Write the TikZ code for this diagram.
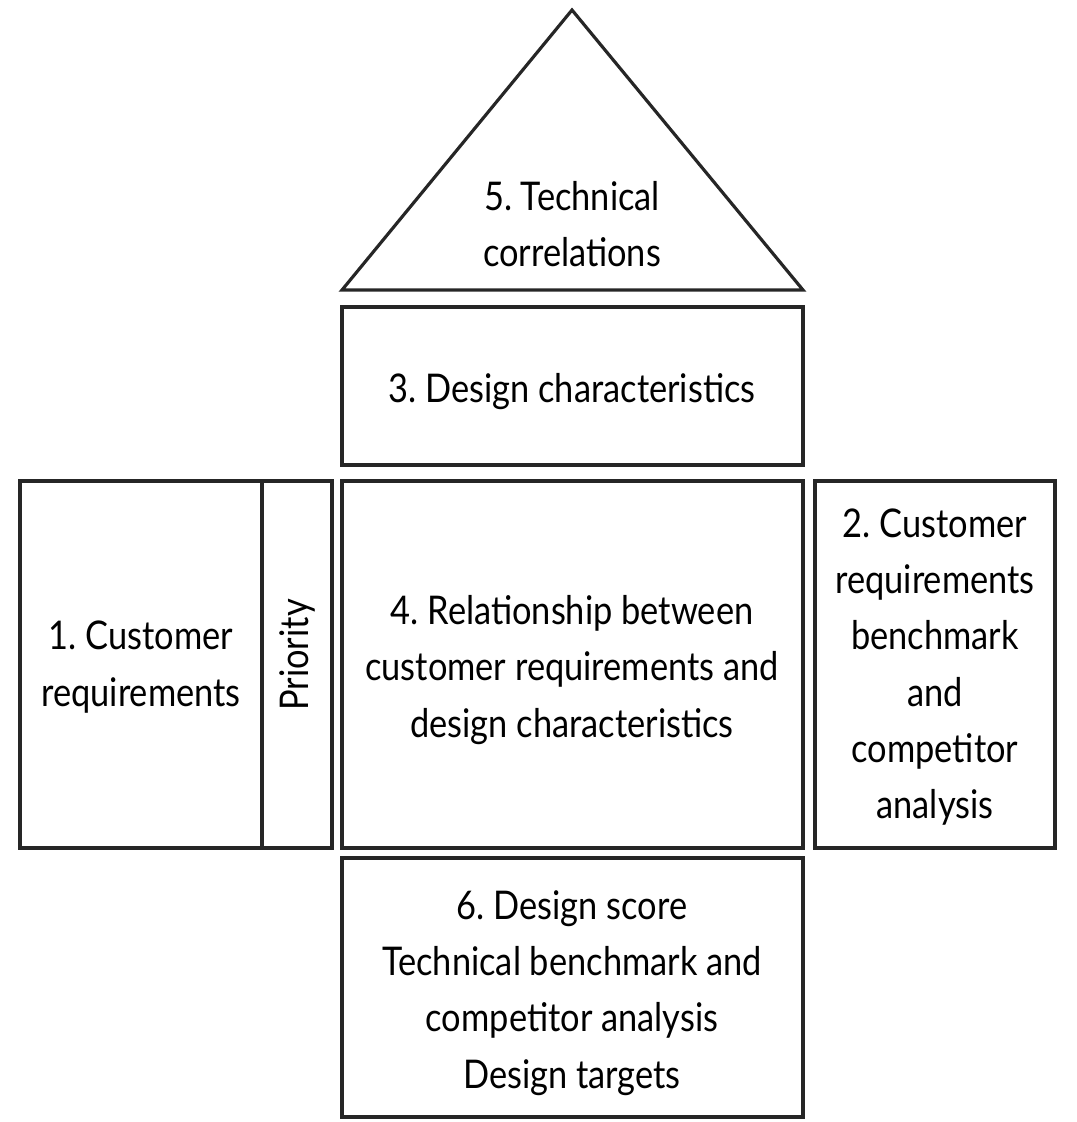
\documentclass[tikz,border=0pt]{standalone}
\usepackage{fontspec}
\setmainfont{Lato}[FakeStretch=0.87]
\frenchspacing
\usepackage{tikz}
\usetikzlibrary{positioning}
\tikzset{
  room/.style={draw=black!85,line width=1.8pt,rectangle,inner sep=0pt},
  label text/.style={align=center,font=\fontsize{22.5}{32}\selectfont},
}

\begin{document}
\begin{tikzpicture}[x=0.02cm,y=-0.02cm]
  \useasboundingbox (0,0) rectangle (1076,1122);
  % roof
  \coordinate (apex) at (572,10);
  \coordinate (roofL) at (342,290);
  \coordinate (roofR) at (803,290);
  \draw[black!85,line width=1.8pt,line join=miter] (roofL)--(apex)--(roofR)--cycle;
  \node[label text] (corr) at (572,224) {5. Technical\\correlations};
  % rooms
  \node[room,minimum width=9.22cm,minimum height=3.16cm] (design) at (572.5,386) {};
  \node[room,minimum width=9.22cm,minimum height=7.34cm] (relation) at (572.5,664.5) {};
  \node[room,minimum width=4.84cm,minimum height=7.34cm] (custreq) at (141,664.5) {};
  \node[room,minimum width=1.40cm,minimum height=7.34cm] (priority) at (297,664.5) {};
  \node[room,minimum width=4.80cm,minimum height=7.34cm] (bench) at (935,664.5) {};
  \node[room,minimum width=9.22cm,minimum height=5.18cm] (score) at (572.5,987.5) {};
  % texts
  \node[label text] (designtxt) at (572,392) {3. Design characteristics};
  \node[label text] (relationtxt) at (572,670)
    {4. Relationship between\\customer requirements and\\design characteristics};
  \node[label text] (custreqtxt) at (141,667) {1. Customer\\requirements};
  \node[label text,rotate=90] (prio) at (297,655) {Priority};
  \node[label text] (benchtxt) at (935,667)
    {2. Customer\\requirements\\benchmark\\and\\competitor\\analysis};
  \node[label text] (scoretxt) at (572,993)
    {6. Design score\\Technical benchmark and\\competitor analysis\\Design targets};
\end{tikzpicture}
\end{document}
